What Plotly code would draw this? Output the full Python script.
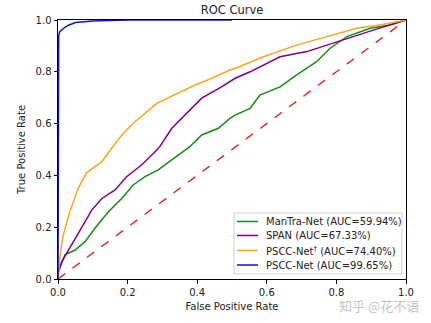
import plotly.graph_objects as go

# ManTra-Net (green)
mantra_fpr = [0.0, 0.001, 0.02, 0.049, 0.078, 0.106, 0.145, 0.183, 0.216, 0.25, 0.288, 0.327, 0.355, 0.379,
              0.413, 0.461, 0.494, 0.509, 0.552, 0.580, 0.638, 0.686, 0.743, 0.782, 0.830, 0.897, 0.954, 1.0]
mantra_tpr = [0.0, 0.028, 0.093, 0.112, 0.144, 0.196, 0.26, 0.311, 0.363, 0.395, 0.421, 0.459, 0.485, 0.511,
              0.556, 0.582, 0.620, 0.633, 0.659, 0.710, 0.742, 0.788, 0.839, 0.891, 0.936, 0.968, 0.981, 1.0]
# SPAN (purple)
span_fpr = [0.0, 0.001, 0.011, 0.039, 0.068, 0.097, 0.126, 0.164, 0.197, 0.24, 0.279, 0.293, 0.327, 0.374,
            0.413, 0.47, 0.494, 0.509, 0.552, 0.638, 0.715, 0.772, 0.83, 0.906, 1.0]
span_tpr = [0.0, 0.028, 0.067, 0.131, 0.202, 0.266, 0.311, 0.344, 0.395, 0.44, 0.491, 0.512, 0.582, 0.646,
            0.698, 0.742, 0.762, 0.775, 0.80, 0.858, 0.878, 0.903, 0.929, 0.961, 1.0]
# PSCC-Net dagger (orange)
psccd_fpr = [0.0, 0.006, 0.015, 0.034, 0.058, 0.082, 0.126, 0.154, 0.188, 0.221, 0.284, 0.346, 0.394, 0.442,
             0.494, 0.509, 0.59, 0.686, 0.772, 0.858, 0.925, 1.0]
psccd_tpr = [0.0, 0.093, 0.17, 0.26, 0.35, 0.41, 0.453, 0.505, 0.563, 0.607, 0.678, 0.717, 0.749, 0.775,
             0.807, 0.813, 0.858, 0.903, 0.936, 0.968, 0.981, 1.0]
# PSCC-Net (blue)
pscc_fpr = [0.0, 0.0, 0.002, 0.005, 0.01, 0.02, 0.03, 0.05, 0.1, 0.15, 0.2, 0.5]
pscc_tpr = [0.0, 0.91, 0.94, 0.955, 0.962, 0.972, 0.98, 0.99, 0.996, 0.999, 1.0, 1.0]

names = ["ManTra-Net (AUC=59.94%)", "SPAN (AUC=67.33%)",
         "PSCC-Net<sup>†</sup> (AUC=74.40%)", "PSCC-Net (AUC=99.65%)"]
colors = ["#1a8a1a", "#800080", "#f5a623", "#1515b5"]

x_ticks = [0.0, 0.2, 0.4, 0.6, 0.8, 1.0]
y_ticks = [0.0, 0.2, 0.4, 0.6, 0.8, 1.0]

fig = go.Figure()
fig.add_trace(go.Scatter(x=[0, 1], y=[0, 1], mode="lines", showlegend=False,
                         line=dict(color="#d9242b", width=1.4, dash="dash")))
for fx, ty, n, c in [(mantra_fpr, mantra_tpr, names[0], colors[0]),
                     (span_fpr, span_tpr, names[1], colors[1]),
                     (psccd_fpr, psccd_tpr, names[2], colors[2]),
                     (pscc_fpr, pscc_tpr, names[3], colors[3])]:
    fig.add_trace(go.Scatter(x=fx, y=ty, mode="lines", name=n, showlegend=False,
                             line=dict(color=c, width=1.5)))

font = "DejaVu Sans, sans-serif"
axis_common = dict(range=[0, 1], showgrid=False, zeroline=False, showline=True,
                   linecolor="black", linewidth=1, mirror=True, ticks="outside",
                   ticklen=3.5, tickwidth=0.8, tickcolor="black",
                   tickfont=dict(family=font, size=10, color="#222222"),
                   tickformat=".1f")
fig.update_layout(
    width=431, height=323,
    margin=dict(l=58, r=25, t=20, b=44),
    paper_bgcolor="white", plot_bgcolor="white",
    title=dict(text="ROC Curve", x=(58 + 406) / 2 / 431, xanchor="center",
               y=1 - 10 / 323, yanchor="middle",
               font=dict(family=font, size=11.5, color="#222222")),
    xaxis=dict(axis_common, tickvals=x_ticks,
               title=dict(text="False Positive Rate", standoff=6,
                          font=dict(family=font, size=10, color="#222222"))),
    yaxis=dict(axis_common, tickvals=y_ticks,
               title=dict(text="True Positive Rate", standoff=8,
                          font=dict(family=font, size=10, color="#222222"))),
    showlegend=False,
)

# Hand-built legend (matplotlib-like compact spacing), positions in paper coords
def px_x(p):
    return (p - 58) / 348.0

def px_y(p):
    return (279 - p) / 259.0

fig.add_shape(type="rect", xref="paper", yref="paper",
              x0=px_x(234), x1=px_x(402), y0=px_y(274), y1=px_y(213),
              line=dict(color="#d0d0d0", width=1), fillcolor="rgba(255,255,255,0.85)",
              layer="above")
row_y = [221.5, 235.5, 250.5, 265]
for ry, n, c in zip(row_y, names, colors):
    fig.add_shape(type="line", xref="paper", yref="paper",
                  x0=px_x(237), x1=px_x(258), y0=px_y(ry), y1=px_y(ry),
                  line=dict(color=c, width=1.5), layer="above")
    fig.add_annotation(text=n, xref="paper", yref="paper", x=px_x(264), y=px_y(ry),
                       xanchor="left", yanchor="middle", showarrow=False,
                       font=dict(family=font, size=10, color="#222222"))

fig.add_annotation(text="知乎 @花不语", xref="paper", yref="paper",
                   x=(421 - 58) / 348, y=(279 - 305) / 259, xanchor="right", yanchor="middle",
                   showarrow=False,
                   font=dict(family="Noto Sans CJK SC", size=13, color="#c4c4c4"))
fig.write_html("out.html")
